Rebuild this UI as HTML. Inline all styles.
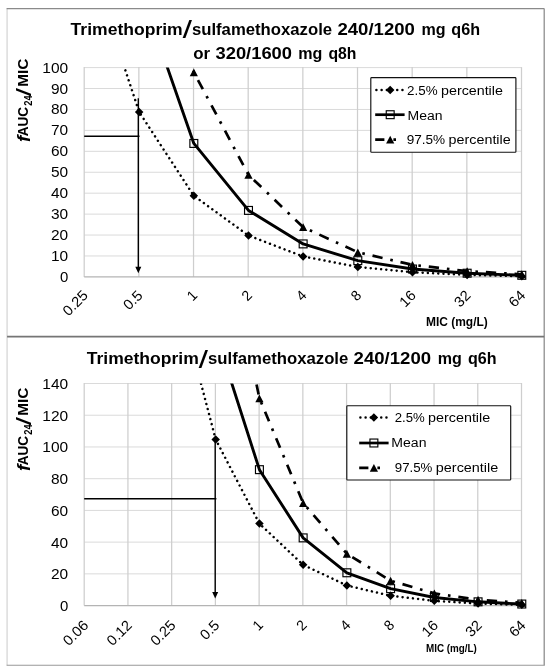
<!DOCTYPE html><html><head><meta charset="utf-8"><title>fAUC24/MIC versus MIC</title><style>html,body{margin:0;padding:0;background:#fff}svg{display:block}text{font-family:"Liberation Sans", sans-serif;fill:#000}</style></head><body>
<svg width="550" height="672" viewBox="0 0 550 672">
<rect width="550" height="672" fill="#fff"/>
<g stroke="#dadada" stroke-width="1" fill="none">
<line x1="84.20" x2="521.50" y1="255.97" y2="255.97"/>
<line x1="84.20" x2="521.50" y1="235.04" y2="235.04"/>
<line x1="84.20" x2="521.50" y1="214.11" y2="214.11"/>
<line x1="84.20" x2="521.50" y1="193.18" y2="193.18"/>
<line x1="84.20" x2="521.50" y1="172.25" y2="172.25"/>
<line x1="84.20" x2="521.50" y1="151.32" y2="151.32"/>
<line x1="84.20" x2="521.50" y1="130.39" y2="130.39"/>
<line x1="84.20" x2="521.50" y1="109.46" y2="109.46"/>
<line x1="84.20" x2="521.50" y1="88.53" y2="88.53"/>
<line x1="84.20" x2="521.50" y1="67.60" y2="67.60"/>
</g>
<g stroke="#cecece" stroke-width="1.25" fill="none">
<line x1="84.20" x2="84.20" y1="67.10" y2="276.90"/>
<line x1="138.86" x2="138.86" y1="67.10" y2="276.90"/>
<line x1="193.53" x2="193.53" y1="67.10" y2="276.90"/>
<line x1="248.19" x2="248.19" y1="67.10" y2="276.90"/>
<line x1="302.85" x2="302.85" y1="67.10" y2="276.90"/>
<line x1="357.51" x2="357.51" y1="67.10" y2="276.90"/>
<line x1="412.18" x2="412.18" y1="67.10" y2="276.90"/>
<line x1="466.84" x2="466.84" y1="67.10" y2="276.90"/>
<line x1="521.50" x2="521.50" y1="67.10" y2="276.90"/>
</g>
<line x1="84.20" x2="521.50" y1="276.90" y2="276.90" stroke="#b4b4b4" stroke-width="1.3"/>
<text x="68.20" y="281.90" font-size="15.4" font-weight="normal" text-anchor="end" textLength="8.30" lengthAdjust="spacingAndGlyphs">0</text>
<text x="68.20" y="260.97" font-size="15.4" font-weight="normal" text-anchor="end" textLength="17.20" lengthAdjust="spacingAndGlyphs">10</text>
<text x="68.20" y="240.04" font-size="15.4" font-weight="normal" text-anchor="end" textLength="17.20" lengthAdjust="spacingAndGlyphs">20</text>
<text x="68.20" y="219.11" font-size="15.4" font-weight="normal" text-anchor="end" textLength="17.20" lengthAdjust="spacingAndGlyphs">30</text>
<text x="68.20" y="198.18" font-size="15.4" font-weight="normal" text-anchor="end" textLength="17.20" lengthAdjust="spacingAndGlyphs">40</text>
<text x="68.20" y="177.25" font-size="15.4" font-weight="normal" text-anchor="end" textLength="17.20" lengthAdjust="spacingAndGlyphs">50</text>
<text x="68.20" y="156.32" font-size="15.4" font-weight="normal" text-anchor="end" textLength="17.20" lengthAdjust="spacingAndGlyphs">60</text>
<text x="68.20" y="135.39" font-size="15.4" font-weight="normal" text-anchor="end" textLength="17.20" lengthAdjust="spacingAndGlyphs">70</text>
<text x="68.20" y="114.46" font-size="15.4" font-weight="normal" text-anchor="end" textLength="17.20" lengthAdjust="spacingAndGlyphs">80</text>
<text x="68.20" y="93.53" font-size="15.4" font-weight="normal" text-anchor="end" textLength="17.20" lengthAdjust="spacingAndGlyphs">90</text>
<text x="68.20" y="72.60" font-size="15.4" font-weight="normal" text-anchor="end" textLength="25.90" lengthAdjust="spacingAndGlyphs">100</text>
<text x="0" y="0" transform="translate(88.90,296.30) rotate(-45)" font-size="14.4" font-weight="normal" text-anchor="end" textLength="28.80" lengthAdjust="spacingAndGlyphs">0.25</text>
<text x="0" y="0" transform="translate(143.56,296.30) rotate(-45)" font-size="14.4" font-weight="normal" text-anchor="end" textLength="20.60" lengthAdjust="spacingAndGlyphs">0.5</text>
<text x="0" y="0" transform="translate(198.22,296.30) rotate(-45)" font-size="14.4" font-weight="normal" text-anchor="end" textLength="7.80" lengthAdjust="spacingAndGlyphs">1</text>
<text x="0" y="0" transform="translate(252.89,296.30) rotate(-45)" font-size="14.4" font-weight="normal" text-anchor="end" textLength="7.80" lengthAdjust="spacingAndGlyphs">2</text>
<text x="0" y="0" transform="translate(307.55,296.30) rotate(-45)" font-size="14.4" font-weight="normal" text-anchor="end" textLength="7.80" lengthAdjust="spacingAndGlyphs">4</text>
<text x="0" y="0" transform="translate(362.21,296.30) rotate(-45)" font-size="14.4" font-weight="normal" text-anchor="end" textLength="7.80" lengthAdjust="spacingAndGlyphs">8</text>
<text x="0" y="0" transform="translate(416.88,296.30) rotate(-45)" font-size="14.4" font-weight="normal" text-anchor="end" textLength="16.40" lengthAdjust="spacingAndGlyphs">16</text>
<text x="0" y="0" transform="translate(471.54,296.30) rotate(-45)" font-size="14.4" font-weight="normal" text-anchor="end" textLength="16.40" lengthAdjust="spacingAndGlyphs">32</text>
<text x="0" y="0" transform="translate(526.20,296.30) rotate(-45)" font-size="14.4" font-weight="normal" text-anchor="end" textLength="16.40" lengthAdjust="spacingAndGlyphs">64</text>
<clipPath id="clipA"><rect x="83.20" y="67.60" width="449.30" height="217.30"/></clipPath>
<g clip-path="url(#clipA)"><g transform="translate(0.3,0.5)">
<path d="M84.20,-53.79 L138.86,111.55 L193.53,195.27 L248.19,235.04 L302.85,255.97 L357.51,266.44 L412.18,271.67 L466.84,274.39 L521.50,275.64" fill="none" stroke="#000" stroke-width="2.5" stroke-linejoin="round" stroke-dasharray="0.01 5.2" stroke-linecap="round"/>
<path d="M138.86,-14.03 L193.53,142.95 L248.19,209.92 L302.85,243.41 L357.51,260.16 L412.18,268.53 L466.84,272.71 L521.50,274.81" fill="none" stroke="#000" stroke-width="2.9" stroke-linejoin="round" />
<path d="M138.86,-133.33 L193.53,71.79 L248.19,174.34 L302.85,226.67 L357.51,251.78 L412.18,264.34 L466.84,270.62 L521.50,273.76" fill="none" stroke="#000" stroke-width="2.7" stroke-linejoin="round" stroke-dasharray="10.3 7.9 2.6 7.9" stroke-dashoffset="8.5"/>
</g></g>
<g transform="translate(0.3,0.5)">
<path d="M138.86,107.30 L143.11,111.55 L138.86,115.80 L134.61,111.55 Z" fill="#000"/>
<path d="M193.53,191.02 L197.78,195.27 L193.53,199.52 L189.28,195.27 Z" fill="#000"/>
<path d="M248.19,230.79 L252.44,235.04 L248.19,239.29 L243.94,235.04 Z" fill="#000"/>
<path d="M302.85,251.72 L307.10,255.97 L302.85,260.22 L298.60,255.97 Z" fill="#000"/>
<path d="M357.51,262.19 L361.76,266.44 L357.51,270.69 L353.26,266.44 Z" fill="#000"/>
<path d="M412.18,267.42 L416.43,271.67 L412.18,275.92 L407.93,271.67 Z" fill="#000"/>
<path d="M466.84,270.14 L471.09,274.39 L466.84,278.64 L462.59,274.39 Z" fill="#000"/>
<path d="M521.50,271.39 L525.75,275.64 L521.50,279.89 L517.25,275.64 Z" fill="#000"/>
<rect x="189.58" y="139.00" width="7.9" height="7.9" fill="none" stroke="#000" stroke-width="1.15"/>
<rect x="244.24" y="205.97" width="7.9" height="7.9" fill="none" stroke="#000" stroke-width="1.15"/>
<rect x="298.90" y="239.46" width="7.9" height="7.9" fill="none" stroke="#000" stroke-width="1.15"/>
<rect x="353.56" y="256.21" width="7.9" height="7.9" fill="none" stroke="#000" stroke-width="1.15"/>
<rect x="408.23" y="264.58" width="7.9" height="7.9" fill="none" stroke="#000" stroke-width="1.15"/>
<rect x="462.89" y="268.76" width="7.9" height="7.9" fill="none" stroke="#000" stroke-width="1.15"/>
<rect x="517.55" y="270.86" width="7.9" height="7.9" fill="none" stroke="#000" stroke-width="1.15"/>
<path d="M193.53,67.89 L197.62,75.69 L189.43,75.69 Z" fill="#000"/>
<path d="M248.19,170.44 L252.29,178.24 L244.09,178.24 Z" fill="#000"/>
<path d="M302.85,222.77 L306.95,230.57 L298.75,230.57 Z" fill="#000"/>
<path d="M357.51,247.88 L361.61,255.68 L353.41,255.68 Z" fill="#000"/>
<path d="M412.18,260.44 L416.28,268.24 L408.07,268.24 Z" fill="#000"/>
<path d="M466.84,266.72 L470.94,274.52 L462.74,274.52 Z" fill="#000"/>
<path d="M521.50,269.86 L525.60,277.66 L517.40,277.66 Z" fill="#000"/>
</g>
<line x1="84.20" x2="139.50" y1="136.30" y2="136.30" stroke="#000" stroke-width="1.4"/>
<line x1="138.30" x2="138.30" y1="98.20" y2="269.30" stroke="#000" stroke-width="1.4"/>
<path d="M135.30,266.70 L141.30,266.70 L138.30,273.30 Z" fill="#000"/>
<text font-size="17.0" font-weight="bold"><tspan x="70.60" y="34.80" textLength="112.10" lengthAdjust="spacingAndGlyphs">Trimethoprim</tspan><tspan x="183.50" y="37.90" font-size="23.3" font-style="italic">/</tspan><tspan x="191.90" y="34.80" textLength="140.20" lengthAdjust="spacingAndGlyphs">sulfamethoxazole</tspan> <tspan x="337.40" y="34.80" textLength="77.50" lengthAdjust="spacingAndGlyphs">240/1200</tspan> <tspan x="421.50" y="34.80" textLength="24.10" lengthAdjust="spacingAndGlyphs">mg</tspan> <tspan x="451.30" y="34.80" textLength="28.70" lengthAdjust="spacingAndGlyphs">q6h</tspan></text>
<text font-size="17.0" font-weight="bold"><tspan x="193.20" y="58.80" textLength="16.90" lengthAdjust="spacingAndGlyphs">or</tspan> <tspan x="215.50" y="58.80" textLength="76.50" lengthAdjust="spacingAndGlyphs">320/1600</tspan> <tspan x="298.30" y="58.80" textLength="24.10" lengthAdjust="spacingAndGlyphs">mg</tspan> <tspan x="328.40" y="58.80" textLength="28.00" lengthAdjust="spacingAndGlyphs">q8h</tspan></text>
<text transform="translate(28.20,142.60) rotate(-90)" font-size="15.2" font-weight="bold"><tspan x="0.6" y="2.2" font-style="italic" font-size="19">f</tspan><tspan x="6.30" y="0" textLength="29.50" lengthAdjust="spacingAndGlyphs">AUC</tspan><tspan x="36.90" y="3.8" font-size="10.4" textLength="10.40" lengthAdjust="spacingAndGlyphs">24</tspan><tspan x="47.0" y="3" font-size="20.5" font-style="italic">/</tspan><tspan x="55.80" y="0" textLength="28.20" lengthAdjust="spacingAndGlyphs">MIC</tspan></text>
<text x="426.00" y="325.50" font-size="12.2" font-weight="bold" text-anchor="start" textLength="61.80" lengthAdjust="spacingAndGlyphs">MIC (mg/L)</text>
<rect x="370.80" y="77.60" width="145.10" height="74.60" rx="0.8" fill="#fff" stroke="#111" stroke-width="1.15"/>
<line x1="376.40" x2="402.60" y1="90.00" y2="90.00" stroke="#000" stroke-width="2.5" stroke-dasharray="0.01 5.2" stroke-linecap="round"/>
<path d="M390.20,85.75 L394.45,90.00 L390.20,94.25 L385.95,90.00 Z" fill="#000"/>
<line x1="375.20" x2="404.60" y1="114.70" y2="114.70" stroke="#000" stroke-width="2.7"/>
<rect x="386.25" y="110.75" width="7.9" height="7.9" fill="none" stroke="#000" stroke-width="1.15"/>
<line x1="375.20" x2="397.20" y1="139.60" y2="139.60" stroke="#000" stroke-width="2.7" stroke-dasharray="9.2 9.0 2.6 8"/>
<path d="M390.20,135.70 L394.30,143.50 L386.10,143.50 Z" fill="#000"/>
<text font-size="13.7" font-weight="normal"><tspan x="407.10" y="95.00" textLength="30.50" lengthAdjust="spacingAndGlyphs">2.5%</tspan> <tspan x="441.00" y="95.00" textLength="61.90" lengthAdjust="spacingAndGlyphs">percentile</tspan></text>
<text font-size="13.7" font-weight="normal"><tspan x="407.50" y="119.50" textLength="35.00" lengthAdjust="spacingAndGlyphs">Mean</tspan></text>
<text font-size="13.7" font-weight="normal"><tspan x="406.70" y="144.40" textLength="38.50" lengthAdjust="spacingAndGlyphs">97.5%</tspan> <tspan x="448.60" y="144.40" textLength="62.10" lengthAdjust="spacingAndGlyphs">percentile</tspan></text>
<g stroke="#dadada" stroke-width="1" fill="none">
<line x1="84.20" x2="521.50" y1="573.87" y2="573.87"/>
<line x1="84.20" x2="521.50" y1="542.14" y2="542.14"/>
<line x1="84.20" x2="521.50" y1="510.41" y2="510.41"/>
<line x1="84.20" x2="521.50" y1="478.69" y2="478.69"/>
<line x1="84.20" x2="521.50" y1="446.96" y2="446.96"/>
<line x1="84.20" x2="521.50" y1="415.23" y2="415.23"/>
<line x1="84.20" x2="521.50" y1="383.50" y2="383.50"/>
</g>
<g stroke="#cecece" stroke-width="1.25" fill="none">
<line x1="84.20" x2="84.20" y1="383.00" y2="605.60"/>
<line x1="127.93" x2="127.93" y1="383.00" y2="605.60"/>
<line x1="171.66" x2="171.66" y1="383.00" y2="605.60"/>
<line x1="215.39" x2="215.39" y1="383.00" y2="605.60"/>
<line x1="259.12" x2="259.12" y1="383.00" y2="605.60"/>
<line x1="302.85" x2="302.85" y1="383.00" y2="605.60"/>
<line x1="346.58" x2="346.58" y1="383.00" y2="605.60"/>
<line x1="390.31" x2="390.31" y1="383.00" y2="605.60"/>
<line x1="434.04" x2="434.04" y1="383.00" y2="605.60"/>
<line x1="477.77" x2="477.77" y1="383.00" y2="605.60"/>
<line x1="521.50" x2="521.50" y1="383.00" y2="605.60"/>
</g>
<line x1="84.20" x2="521.50" y1="605.60" y2="605.60" stroke="#b4b4b4" stroke-width="1.3"/>
<text x="68.20" y="611.10" font-size="15.4" font-weight="normal" text-anchor="end" textLength="8.30" lengthAdjust="spacingAndGlyphs">0</text>
<text x="68.20" y="579.37" font-size="15.4" font-weight="normal" text-anchor="end" textLength="17.20" lengthAdjust="spacingAndGlyphs">20</text>
<text x="68.20" y="547.64" font-size="15.4" font-weight="normal" text-anchor="end" textLength="17.20" lengthAdjust="spacingAndGlyphs">40</text>
<text x="68.20" y="515.91" font-size="15.4" font-weight="normal" text-anchor="end" textLength="17.20" lengthAdjust="spacingAndGlyphs">60</text>
<text x="68.20" y="484.19" font-size="15.4" font-weight="normal" text-anchor="end" textLength="17.20" lengthAdjust="spacingAndGlyphs">80</text>
<text x="68.20" y="452.46" font-size="15.4" font-weight="normal" text-anchor="end" textLength="25.90" lengthAdjust="spacingAndGlyphs">100</text>
<text x="68.20" y="420.73" font-size="15.4" font-weight="normal" text-anchor="end" textLength="25.90" lengthAdjust="spacingAndGlyphs">120</text>
<text x="68.20" y="389.00" font-size="15.4" font-weight="normal" text-anchor="end" textLength="25.90" lengthAdjust="spacingAndGlyphs">140</text>
<text x="0" y="0" transform="translate(89.20,626.10) rotate(-45)" font-size="14.4" font-weight="normal" text-anchor="end" textLength="28.80" lengthAdjust="spacingAndGlyphs">0.06</text>
<text x="0" y="0" transform="translate(132.93,626.10) rotate(-45)" font-size="14.4" font-weight="normal" text-anchor="end" textLength="28.80" lengthAdjust="spacingAndGlyphs">0.12</text>
<text x="0" y="0" transform="translate(176.66,626.10) rotate(-45)" font-size="14.4" font-weight="normal" text-anchor="end" textLength="28.80" lengthAdjust="spacingAndGlyphs">0.25</text>
<text x="0" y="0" transform="translate(220.39,626.10) rotate(-45)" font-size="14.4" font-weight="normal" text-anchor="end" textLength="20.60" lengthAdjust="spacingAndGlyphs">0.5</text>
<text x="0" y="0" transform="translate(264.12,626.10) rotate(-45)" font-size="14.4" font-weight="normal" text-anchor="end" textLength="7.80" lengthAdjust="spacingAndGlyphs">1</text>
<text x="0" y="0" transform="translate(307.85,626.10) rotate(-45)" font-size="14.4" font-weight="normal" text-anchor="end" textLength="7.80" lengthAdjust="spacingAndGlyphs">2</text>
<text x="0" y="0" transform="translate(351.58,626.10) rotate(-45)" font-size="14.4" font-weight="normal" text-anchor="end" textLength="7.80" lengthAdjust="spacingAndGlyphs">4</text>
<text x="0" y="0" transform="translate(395.31,626.10) rotate(-45)" font-size="14.4" font-weight="normal" text-anchor="end" textLength="7.80" lengthAdjust="spacingAndGlyphs">8</text>
<text x="0" y="0" transform="translate(439.04,626.10) rotate(-45)" font-size="14.4" font-weight="normal" text-anchor="end" textLength="16.40" lengthAdjust="spacingAndGlyphs">16</text>
<text x="0" y="0" transform="translate(482.77,626.10) rotate(-45)" font-size="14.4" font-weight="normal" text-anchor="end" textLength="16.40" lengthAdjust="spacingAndGlyphs">32</text>
<text x="0" y="0" transform="translate(526.50,626.10) rotate(-45)" font-size="14.4" font-weight="normal" text-anchor="end" textLength="16.40" lengthAdjust="spacingAndGlyphs">64</text>
<clipPath id="clipB"><rect x="83.20" y="383.50" width="449.30" height="230.10"/></clipPath>
<g clip-path="url(#clipB)"><g transform="translate(0.3,0.5)">
<path d="M171.66,272.45 L215.39,439.02 L259.12,523.11 L302.85,564.35 L346.58,584.98 L390.31,595.29 L434.04,600.36 L477.77,603.06 L521.50,604.33" fill="none" stroke="#000" stroke-width="2.5" stroke-linejoin="round" stroke-dasharray="0.01 5.2" stroke-linecap="round"/>
<path d="M215.39,332.73 L259.12,469.17 L302.85,537.38 L346.58,572.28 L390.31,588.15 L434.04,597.03 L477.77,601.32 L521.50,603.54" fill="none" stroke="#000" stroke-width="2.9" stroke-linejoin="round" />
<path d="M215.39,189.96 L259.12,397.78 L302.85,502.48 L346.58,553.25 L390.31,580.22 L434.04,592.91 L477.77,599.25 L521.50,602.43" fill="none" stroke="#000" stroke-width="2.7" stroke-linejoin="round" stroke-dasharray="10.3 7.9 2.6 7.9" stroke-dashoffset="2.6"/>
</g></g>
<g transform="translate(0.3,0.5)">
<path d="M215.39,434.77 L219.64,439.02 L215.39,443.27 L211.14,439.02 Z" fill="#000"/>
<path d="M259.12,518.86 L263.37,523.11 L259.12,527.36 L254.87,523.11 Z" fill="#000"/>
<path d="M302.85,560.10 L307.10,564.35 L302.85,568.60 L298.60,564.35 Z" fill="#000"/>
<path d="M346.58,580.73 L350.83,584.98 L346.58,589.23 L342.33,584.98 Z" fill="#000"/>
<path d="M390.31,591.04 L394.56,595.29 L390.31,599.54 L386.06,595.29 Z" fill="#000"/>
<path d="M434.04,596.11 L438.29,600.36 L434.04,604.61 L429.79,600.36 Z" fill="#000"/>
<path d="M477.77,598.81 L482.02,603.06 L477.77,607.31 L473.52,603.06 Z" fill="#000"/>
<path d="M521.50,600.08 L525.75,604.33 L521.50,608.58 L517.25,604.33 Z" fill="#000"/>
<rect x="255.17" y="465.22" width="7.9" height="7.9" fill="none" stroke="#000" stroke-width="1.15"/>
<rect x="298.90" y="533.43" width="7.9" height="7.9" fill="none" stroke="#000" stroke-width="1.15"/>
<rect x="342.63" y="568.33" width="7.9" height="7.9" fill="none" stroke="#000" stroke-width="1.15"/>
<rect x="386.36" y="584.20" width="7.9" height="7.9" fill="none" stroke="#000" stroke-width="1.15"/>
<rect x="430.09" y="593.08" width="7.9" height="7.9" fill="none" stroke="#000" stroke-width="1.15"/>
<rect x="473.82" y="597.37" width="7.9" height="7.9" fill="none" stroke="#000" stroke-width="1.15"/>
<rect x="517.55" y="599.59" width="7.9" height="7.9" fill="none" stroke="#000" stroke-width="1.15"/>
<path d="M259.12,393.88 L263.22,401.68 L255.02,401.68 Z" fill="#000"/>
<path d="M302.85,498.58 L306.95,506.38 L298.75,506.38 Z" fill="#000"/>
<path d="M346.58,549.35 L350.68,557.15 L342.48,557.15 Z" fill="#000"/>
<path d="M390.31,576.32 L394.41,584.12 L386.21,584.12 Z" fill="#000"/>
<path d="M434.04,589.01 L438.14,596.81 L429.94,596.81 Z" fill="#000"/>
<path d="M477.77,595.35 L481.87,603.15 L473.67,603.15 Z" fill="#000"/>
<path d="M521.50,598.53 L525.60,606.33 L517.40,606.33 Z" fill="#000"/>
</g>
<line x1="84.20" x2="216.40" y1="498.80" y2="498.80" stroke="#000" stroke-width="1.4"/>
<line x1="215.20" x2="215.20" y1="438.50" y2="594.60" stroke="#000" stroke-width="1.4"/>
<path d="M212.20,592.00 L218.20,592.00 L215.20,598.60 Z" fill="#000"/>
<text font-size="17.0" font-weight="bold"><tspan x="86.70" y="364.40" textLength="112.10" lengthAdjust="spacingAndGlyphs">Trimethoprim</tspan><tspan x="199.60" y="367.50" font-size="23.3" font-style="italic">/</tspan><tspan x="208.00" y="364.40" textLength="140.30" lengthAdjust="spacingAndGlyphs">sulfamethoxazole</tspan> <tspan x="353.60" y="364.40" textLength="77.50" lengthAdjust="spacingAndGlyphs">240/1200</tspan> <tspan x="437.70" y="364.40" textLength="24.10" lengthAdjust="spacingAndGlyphs">mg</tspan> <tspan x="468.00" y="364.40" textLength="28.60" lengthAdjust="spacingAndGlyphs">q6h</tspan></text>
<text transform="translate(28.20,471.60) rotate(-90)" font-size="15.2" font-weight="bold"><tspan x="0.6" y="2.2" font-style="italic" font-size="19">f</tspan><tspan x="6.30" y="0" textLength="29.50" lengthAdjust="spacingAndGlyphs">AUC</tspan><tspan x="36.90" y="3.8" font-size="10.4" textLength="10.40" lengthAdjust="spacingAndGlyphs">24</tspan><tspan x="47.0" y="3" font-size="20.5" font-style="italic">/</tspan><tspan x="55.80" y="0" textLength="28.20" lengthAdjust="spacingAndGlyphs">MIC</tspan></text>
<text x="426.00" y="652.20" font-size="10.0" font-weight="bold" text-anchor="start" textLength="50.90" lengthAdjust="spacingAndGlyphs">MIC (mg/L)</text>
<rect x="346.80" y="405.70" width="163.90" height="74.30" rx="0.8" fill="#fff" stroke="#111" stroke-width="1.15"/>
<line x1="360.40" x2="386.60" y1="417.60" y2="417.60" stroke="#000" stroke-width="2.5" stroke-dasharray="0.01 5.2" stroke-linecap="round"/>
<path d="M373.90,413.35 L378.15,417.60 L373.90,421.85 L369.65,417.60 Z" fill="#000"/>
<line x1="359.20" x2="388.60" y1="443.00" y2="443.00" stroke="#000" stroke-width="2.7"/>
<rect x="369.95" y="439.05" width="7.9" height="7.9" fill="none" stroke="#000" stroke-width="1.15"/>
<line x1="359.20" x2="381.20" y1="467.80" y2="467.80" stroke="#000" stroke-width="2.7" stroke-dasharray="9.2 9.0 2.6 8"/>
<path d="M373.90,463.90 L378.00,471.70 L369.80,471.70 Z" fill="#000"/>
<text font-size="13.7" font-weight="normal"><tspan x="394.80" y="422.00" textLength="30.00" lengthAdjust="spacingAndGlyphs">2.5%</tspan> <tspan x="428.10" y="422.00" textLength="62.10" lengthAdjust="spacingAndGlyphs">percentile</tspan></text>
<text font-size="13.7" font-weight="normal"><tspan x="391.30" y="446.90" textLength="35.20" lengthAdjust="spacingAndGlyphs">Mean</tspan></text>
<text font-size="13.7" font-weight="normal"><tspan x="394.80" y="472.00" textLength="37.60" lengthAdjust="spacingAndGlyphs">97.5%</tspan> <tspan x="435.80" y="472.00" textLength="62.50" lengthAdjust="spacingAndGlyphs">percentile</tspan></text>
<line x1="7.1" x2="7.1" y1="8.5" y2="665.2" stroke="#dcdcdc" stroke-width="1.5"/>
<path d="M6.6,8.5 H543.7 Q544.2,8.5 544.2,9 V665.2" fill="none" stroke="#8a8a8a" stroke-width="1.25"/>
<line x1="6.6" x2="544.8" y1="665.2" y2="665.2" stroke="#999" stroke-width="1.1"/>
<line x1="7.1" x2="544.2" y1="336.7" y2="336.7" stroke="#757575" stroke-width="1.8"/>
</svg></body></html>
